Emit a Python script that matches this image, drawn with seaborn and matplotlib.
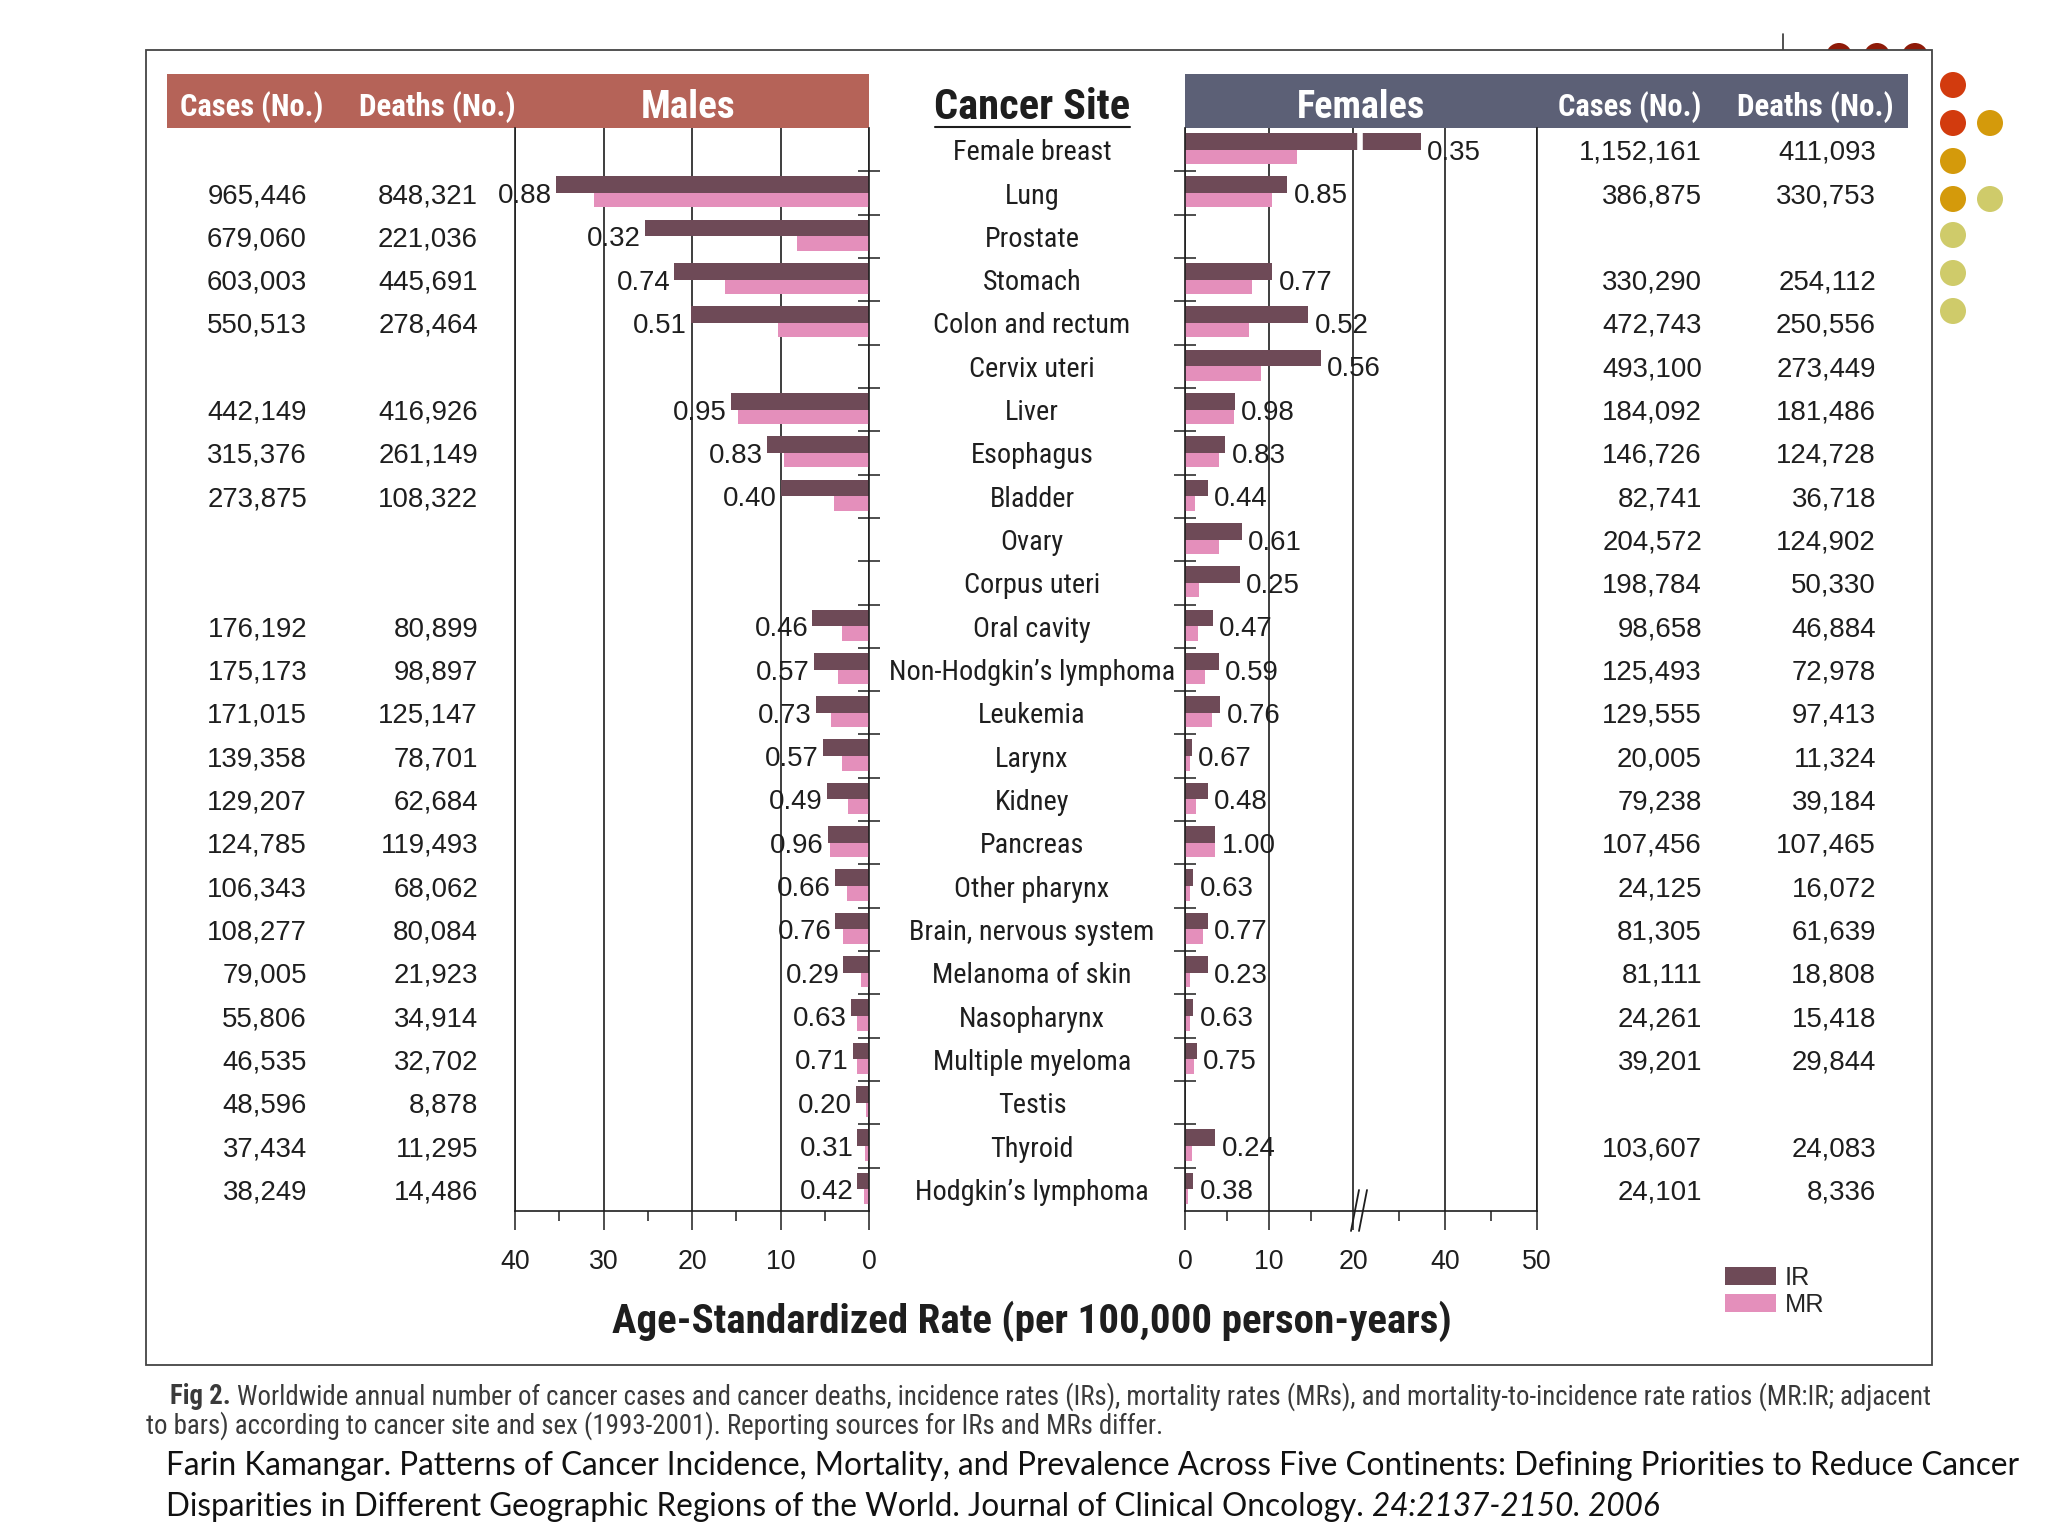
import numpy as np
import pandas as pd
import matplotlib
matplotlib.use("Agg")
import matplotlib.pyplot as plt
import matplotlib.transforms as mtransforms
from matplotlib.patches import Rectangle, Circle
from matplotlib.lines import Line2D
from matplotlib import font_manager
import seaborn as sns

nan = np.nan

sites = ['Female breast', 'Lung', 'Prostate', 'Stomach', 'Colon and rectum',
         'Cervix uteri', 'Liver', 'Esophagus', 'Bladder', 'Ovary', 'Corpus uteri',
         'Oral cavity', 'Non-Hodgkin\u2019s lymphoma', 'Leukemia', 'Larynx', 'Kidney',
         'Pancreas', 'Other pharynx', 'Brain, nervous system', 'Melanoma of skin',
         'Nasopharynx', 'Multiple myeloma', 'Testis', 'Thyroid', 'Hodgkin\u2019s lymphoma']

male_cases = [nan, 965446, 679060, 603003, 550513, nan, 442149, 315376, 273875, nan, nan,
              176192, 175173, 171015, 139358, 129207, 124785, 106343, 108277, 79005,
              55806, 46535, 48596, 37434, 38249]
male_deaths = [nan, 848321, 221036, 445691, 278464, nan, 416926, 261149, 108322, nan, nan,
               80899, 98897, 125147, 78701, 62684, 119493, 68062, 80084, 21923,
               34914, 32702, 8878, 11295, 14486]
male_ir = [nan, 35.4, 25.3, 22.0, 20.1, nan, 15.6, 11.5, 10.0, nan, nan,
           6.4, 6.2, 6.0, 5.2, 4.8, 4.6, 3.8, 3.8, 2.9,
           2.0, 1.8, 1.5, 1.3, 1.3]
male_mr = [nan, 31.1, 8.1, 16.3, 10.3, nan, 14.8, 9.6, 4.0, nan, nan,
           3.0, 3.5, 4.3, 3.0, 2.4, 4.4, 2.5, 2.9, 0.85,
           1.3, 1.3, 0.3, 0.4, 0.55]
male_ratio = [nan, 0.88, 0.32, 0.74, 0.51, nan, 0.95, 0.83, 0.40, nan, nan,
              0.46, 0.57, 0.73, 0.57, 0.49, 0.96, 0.66, 0.76, 0.29,
              0.63, 0.71, 0.20, 0.31, 0.42]

female_cases = [1152161, 386875, nan, 330290, 472743, 493100, 184092, 146726, 82741,
                204572, 198784, 98658, 125493, 129555, 20005, 79238, 107456, 24125,
                81305, 81111, 24261, 39201, nan, 103607, 24101]
female_deaths = [411093, 330753, nan, 254112, 250556, 273449, 181486, 124728, 36718,
                 124902, 50330, 46884, 72978, 97413, 11324, 39184, 107465, 16072,
                 61639, 18808, 15418, 29844, nan, 24083, 8336]
female_ir = [37.4, 12.2, nan, 10.4, 14.7, 16.2, 5.9, 4.8, 2.7, 6.8, 6.5,
             3.3, 4.0, 4.2, 0.8, 2.7, 3.6, 1.0, 2.7, 2.7,
             1.0, 1.4, nan, 3.6, 1.0]
female_mr = [13.3, 10.4, nan, 8.0, 7.6, 9.1, 5.8, 4.0, 1.2, 4.1, 1.7,
             1.55, 2.4, 3.2, 0.54, 1.3, 3.6, 0.63, 2.1, 0.62,
             0.63, 1.05, nan, 0.86, 0.38]
female_ratio = [0.35, 0.85, nan, 0.77, 0.52, 0.56, 0.98, 0.83, 0.44, 0.61, 0.25,
                0.47, 0.59, 0.76, 0.67, 0.48, 1.00, 0.63, 0.77, 0.23,
                0.63, 0.75, nan, 0.24, 0.38]

male_ticks = [0, 10, 20, 30, 40]
female_ticks = [0, 10, 20, 40, 50]

IR_C, MR_C = '#6E4A57', '#E48FBB'
MALE_HDR, FEMALE_HDR = '#B56358', '#5C6076'
INK = '#1E1E1E'

sns.set_theme(style='ticks')
installed = {f.name for f in font_manager.fontManager.ttflist}


def pick(*names):
    for n in names:
        if n in installed:
            return n
    return 'DejaVu Sans'


NARROW = pick('Liberation Sans Narrow', 'Roboto Condensed', 'Open Sans Condensed', 'DejaVu Sans')
PLAIN = pick('Liberation Sans', 'Arimo', 'DejaVu Sans')
CITE = pick('Lato', 'Open Sans', 'Noto Sans')
plt.rcParams['font.family'] = [PLAIN, 'DejaVu Sans']

W, H = 2048, 1536
fig = plt.figure(figsize=(W / 100, H / 100), dpi=100)
renderer = fig.canvas.get_renderer()


def fx(x):
    return x / W


def fy(y):
    return 1 - y / H


def size_for(s, width_px, **kw):
    t = fig.text(0, 0, s, fontsize=20, **kw)
    w = t.get_window_extent(renderer).width
    t.remove()
    return 20 * width_px / w


narrow_kw = dict(family=[NARROW, 'DejaVu Sans'], stretch='condensed')
num_size = size_for('965,446', 100, family=PLAIN)
site_size = size_for('Non-Hodgkin\u2019s lymphoma', 285, **narrow_kw)
TXT_DY = 0.07  # text centres sit a little lower than bbox centres

# frame, header bands and decoration dots
fig.add_artist(Rectangle((fx(146), fy(1365)), (1932 - 146) / W, (1365 - 50) / H,
                         transform=fig.transFigure, facecolor='white', edgecolor='#444',
                         lw=1.3, zorder=-2))
fig.add_artist(Rectangle((fx(167), fy(128)), (869 - 167) / W, 54 / H,
                         transform=fig.transFigure, color=MALE_HDR, lw=0, zorder=-1))
fig.add_artist(Rectangle((fx(1185), fy(128)), (1908 - 1185) / W, 54 / H,
                         transform=fig.transFigure, color=FEMALE_HDR, lw=0, zorder=-1))
dots = [(1839, 56, '#8E1A08'), (1877, 56, '#8E1A08'), (1915, 56, '#8E1A08'),
        (1953, 85, '#D23B0E'), (1953, 123, '#D23B0E'), (1953, 161, '#D49A0B'),
        (1953, 199, '#D49A0B'), (1953, 235, '#CFCB6A'), (1953, 273, '#CFCB6A'),
        (1953, 311, '#CFCB6A'), (1990, 123, '#D49A0B'), (1990, 199, '#CFCB6A')]
for x, y, c in dots:
    fig.add_artist(Circle((x / 100, (H - y) / 100), 0.13, transform=fig.dpi_scale_trans,
                          color=c, lw=0, zorder=-3))
fig.add_artist(Line2D([fx(1783)] * 2, [fy(34), fy(50)], color='#333', lw=1.2, zorder=-3))

ax_m = fig.add_axes([fx(515), fy(1211), (869 - 515) / W, (1211 - 128) / H])
ax_f = fig.add_axes([fx(1185), fy(1211), (1537 - 1185) / W, (1211 - 128) / H])

n = len(sites)


def long_form(ir, mr):
    return pd.DataFrame({'site': sites * 2, 'measure': ['IR'] * n + ['MR'] * n,
                         'rate': list(ir) + list(mr)})


for ax, ir, mr, leg in [(ax_m, male_ir, male_mr, False), (ax_f, female_ir, female_mr, True)]:
    sns.barplot(data=long_form(ir, mr), x='rate', y='site', hue='measure', order=sites,
                hue_order=['IR', 'MR'], palette=[IR_C, MR_C], saturation=1, orient='h',
                width=0.77, errorbar=None, linewidth=0, legend=leg, ax=ax)
    for bar in ax.containers[1]:
        bar.set_height(bar.get_height() * 0.87)
    ax.set_facecolor('none')
    ax.set_xlabel('')
    ax.set_ylabel('')
    ax.set_ylim(n - 0.5, -0.5)
    ax.set_yticks(np.arange(0.5, n - 1, 1))
    ax.set_yticklabels([])
    ax.set_axisbelow(True)
    ax.grid(axis='x', which='major', color=INK, lw=1.2)
    ax.grid(axis='y', visible=False)
    ax.spines['top'].set_visible(False)
    for s in ['left', 'right', 'bottom']:
        ax.spines[s].set_color(INK)
        ax.spines[s].set_linewidth(1.2)
    ax.tick_params(axis='y', which='major', direction='inout', length=16, width=1.1,
                   color=INK)
    ax.tick_params(axis='x', which='major', direction='out', length=13.5, width=1.1,
                   color=INK, labelsize=num_size * 0.97, labelcolor=INK, pad=14)
    ax.tick_params(axis='x', which='minor', direction='out', length=7, width=1.1,
                   color=INK, bottom=True)

# male axis: reversed, ticks on the right side
ax_m.set_xlim(40, 0)
ax_m.set_xticks(male_ticks)
ax_m.set_xticks([5, 15, 25, 35], minor=True)
ax_m.yaxis.tick_right()
ax_m.tick_params(axis='y', left=False, right=True)

# female axis with a break between 20 and 30 (the two pieces are drawn at
# slightly different scales, as in the original)
LO, HI = 0.9545, 1.0455
BRK = 20 * LO


def fwd(v):
    v = np.asarray(v, dtype=float)
    return np.where(v <= 20, v * LO, np.where(v >= 30, BRK + (v - 30) * HI, BRK))


def inv(u):
    u = np.asarray(u, dtype=float)
    return np.where(u <= BRK, u / LO, 30 + (u - BRK) / HI)


ax_f.set_xscale('function', functions=(fwd, inv))
ax_f.set_xlim(0, 50)
ax_f.set_xticks(female_ticks)
ax_f.set_xticklabels([str(t) for t in female_ticks])
ax_f.set_xticks([5, 15, 35, 45], minor=True)
ax_f.xaxis.set_minor_formatter(matplotlib.ticker.NullFormatter())
ax_f.tick_params(axis='y', left=True, right=False)
ax_f.vlines(30.8, -0.42, 0.0, color='white', lw=4, zorder=5)
for x0 in (1351, 1359):
    fig.add_artist(Line2D([fx(x0), fx(x0 + 8)], [fy(1231), fy(1190)], color=INK, lw=1.3))

for lab in ax_m.get_xticklabels() + ax_f.get_xticklabels():
    lab.set_family(PLAIN)

# ratio labels next to the IR bars
for i in range(n):
    if not np.isnan(male_ir[i]):
        ax_m.annotate(f'{male_ratio[i]:.2f}', xy=(male_ir[i], i + 0.07), xytext=(-3, 0),
                      textcoords='offset points', ha='right', va='center',
                      fontsize=num_size, color=INK, annotation_clip=False, zorder=6)
    if not np.isnan(female_ir[i]):
        ax_f.annotate(f'{female_ratio[i]:.2f}', xy=(female_ir[i], i + 0.07), xytext=(4.5, 0),
                      textcoords='offset points', ha='left', va='center',
                      fontsize=num_size, color=INK, annotation_clip=False, zorder=6)

# number columns and site names
tr = mtransforms.blended_transform_factory(fig.transFigure, ax_m.transData)
for i in range(n):
    for vals, xr in [(male_cases, 307), (male_deaths, 478), (female_cases, 1702),
                     (female_deaths, 1876)]:
        if not np.isnan(vals[i]):
            fig.text(fx(xr), i + TXT_DY, f'{int(vals[i]):,}', transform=tr, ha='right',
                     va='center', fontsize=num_size, color=INK)
    fig.text(fx(1032), i + TXT_DY, sites[i], transform=tr, ha='center', va='center',
             fontsize=site_size, color=INK, **narrow_kw)

# header texts
headers = [('Cases (No.)', 252, 144, 'white'), ('Deaths (No.)', 437, 157, 'white'),
           ('Males', 688, 95, 'white'), ('Cancer Site', 1032, 195, INK),
           ('Females', 1361, 128, 'white'), ('Cases (No.)', 1630, 144, 'white'),
           ('Deaths (No.)', 1815, 157, 'white')]
for txt, xc, wpx, col in headers:
    sz = size_for(txt, wpx, weight='bold', **narrow_kw)
    fig.text(fx(xc), fy(107.5), txt, ha='center', va='center', fontsize=sz, weight='bold',
             color=col, **narrow_kw)
fig.add_artist(Line2D([fx(935), fx(1130)], [fy(127), fy(127)], color=INK, lw=1.5))

title = 'Age-Standardized Rate (per 100,000 person-years)'
fig.text(fx(1032), fy(1321), title, ha='center', va='center', weight='bold', color=INK,
         fontsize=size_for(title, 838, weight='bold', **narrow_kw), **narrow_kw)

# legend
sns.move_legend(ax_f, 'upper left', bbox_to_anchor=(fx(1725), fy(1266)),
                bbox_transform=fig.transFigure, title=None, frameon=False,
                fontsize=num_size * 0.92, handlelength=2.0, handleheight=0.68,
                labelspacing=0.12, handletextpad=0.35, borderpad=0, borderaxespad=0)


# caption and citation
def rich_line(x, y, parts, size):
    cur = fx(x)
    for txt, kw in parts:
        t = fig.text(cur, fy(y), txt, va='center', fontsize=size, **kw)
        cur += t.get_window_extent(renderer).width / W


cap_kw = dict(color='#3A3A3A', **narrow_kw)
cap1 = ('Worldwide annual number of cancer cases and cancer deaths, incidence rates (IRs), '
        'mortality rates (MRs), and mortality-to-incidence rate ratios (MR:IR; adjacent')
cap2 = ('to bars) according to cancer site and sex (1993-2001). Reporting sources for IRs '
        'and MRs differ.')
cap_size = size_for('Fig 2. ' + cap1, 1762, **narrow_kw)
rich_line(170, 1397, [('Fig 2. ', dict(weight='bold', **cap_kw)), (cap1, cap_kw)], cap_size)
rich_line(146, 1426, [(cap2, cap_kw)], cap_size)

cite1 = ('Farin Kamangar. Patterns of Cancer Incidence, Mortality, and Prevalence Across '
         'Five Continents: Defining Priorities to Reduce Cancer')
cite2 = 'Disparities in Different Geographic Regions of the World. Journal of Clinical Oncology. '
cite_kw = dict(color='#111111', family=[CITE, 'DejaVu Sans'])
cite_size = size_for(cite1, 1857, **cite_kw)
rich_line(166, 1466, [(cite1, cite_kw)], cite_size)
rich_line(166, 1507, [(cite2, cite_kw), ('24:2137-2150. 2006', dict(style='italic', **cite_kw))],
          cite_size)

fig.savefig('out.png', dpi=100)
